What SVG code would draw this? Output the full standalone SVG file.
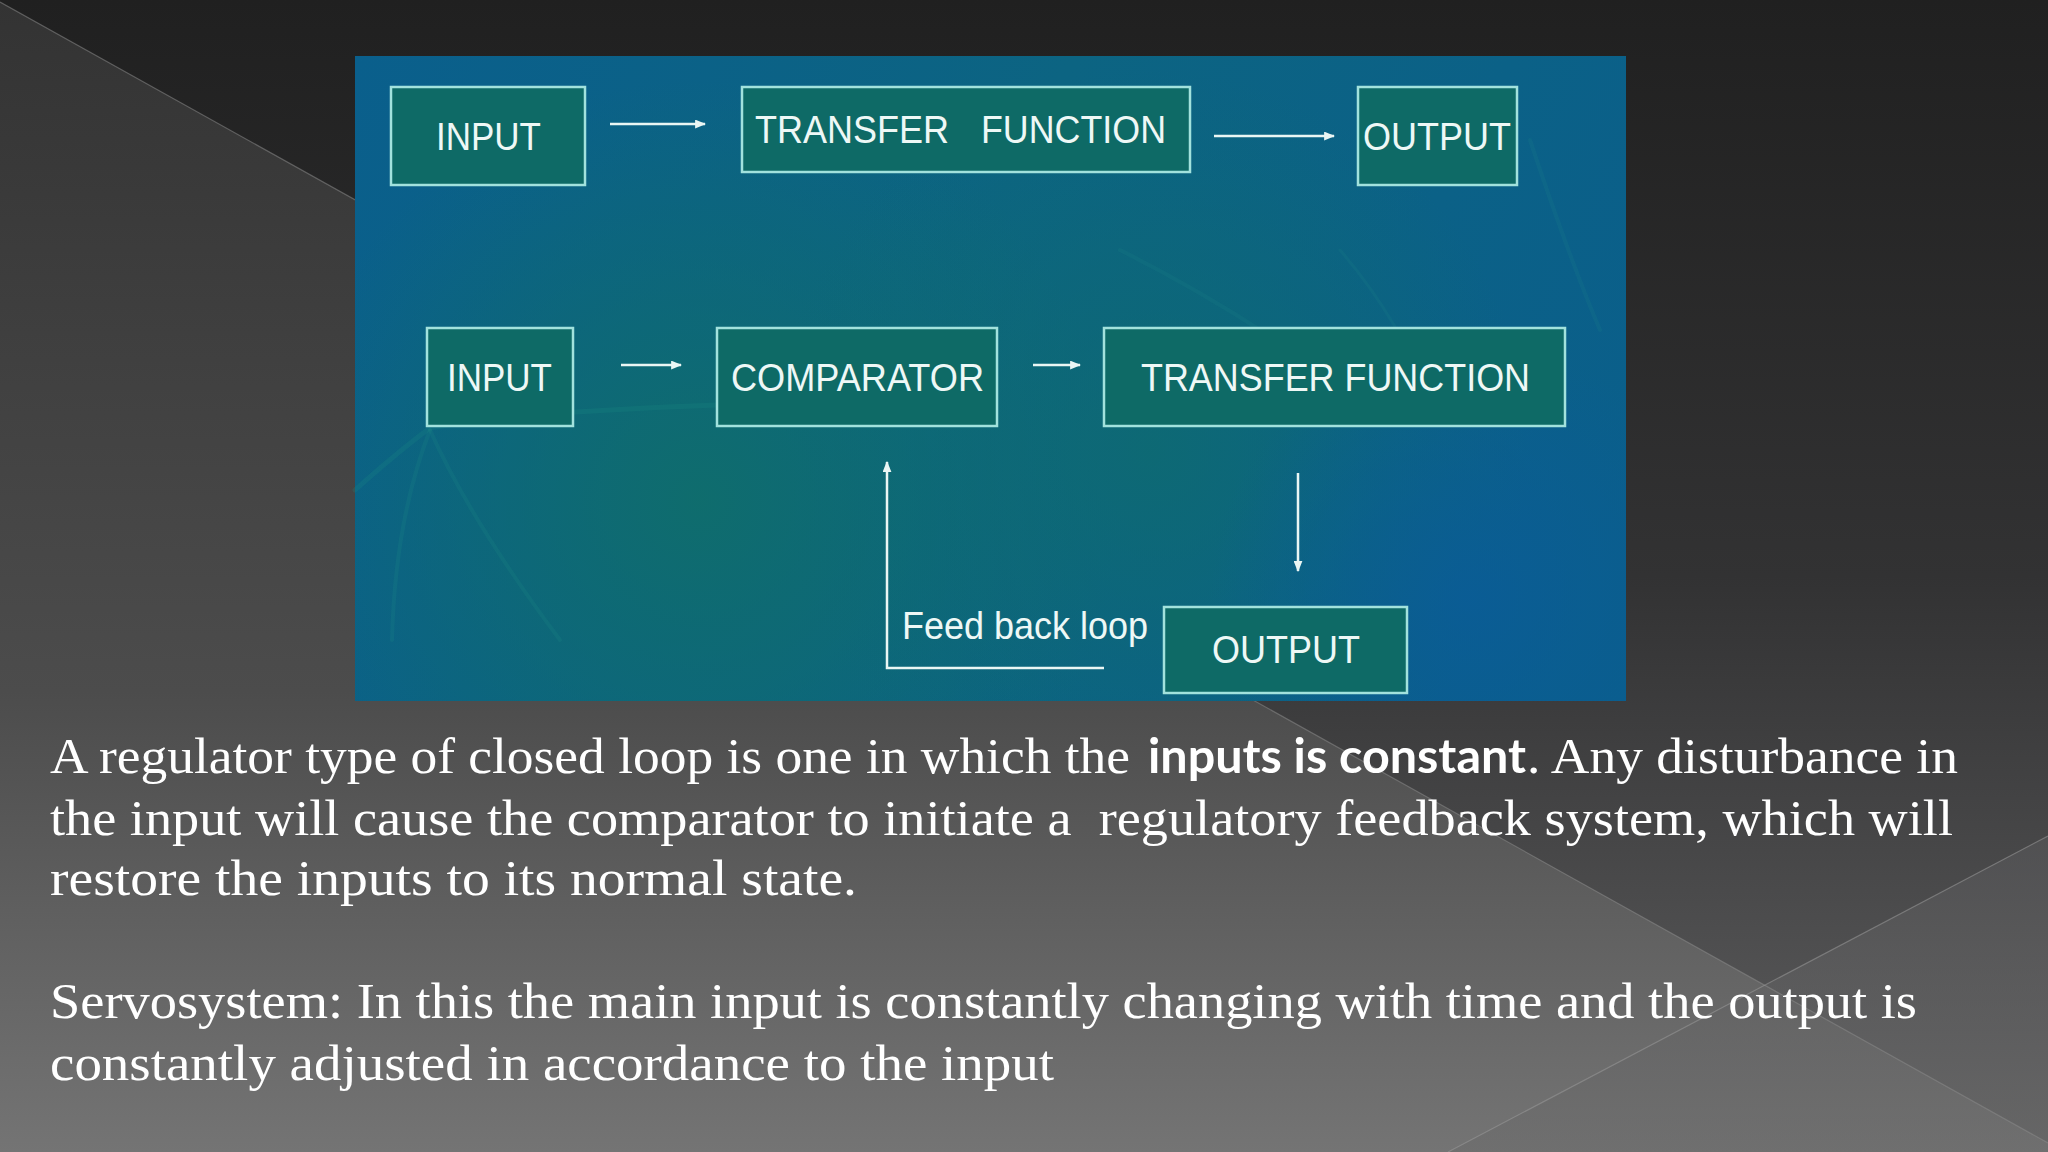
<svg xmlns="http://www.w3.org/2000/svg" width="2048" height="1152" viewBox="0 0 2048 1152">
<defs>
<linearGradient id="bgTop" x1="0" y1="0" x2="0" y2="1152" gradientUnits="userSpaceOnUse">
<stop offset="0" stop-color="#202020"/>
<stop offset="0.5" stop-color="#323233"/>
<stop offset="1" stop-color="#5e5e5f"/>
</linearGradient>
<linearGradient id="bgLow" x1="0" y1="0" x2="0" y2="1152" gradientUnits="userSpaceOnUse">
<stop offset="0" stop-color="#333333"/>
<stop offset="0.6" stop-color="#4c4c4c"/>
<stop offset="1" stop-color="#747474"/>
</linearGradient>
<linearGradient id="bgCorner" x1="0" y1="830" x2="0" y2="1152" gradientUnits="userSpaceOnUse">
<stop offset="0" stop-color="#575759"/>
<stop offset="1" stop-color="#6c6c6c"/>
</linearGradient>
<linearGradient id="panelBase" x1="355" y1="56" x2="1626" y2="701" gradientUnits="userSpaceOnUse">
<stop offset="0" stop-color="#0a5f8c"/>
<stop offset="0.45" stop-color="#0c6482"/>
<stop offset="1" stop-color="#0a5e8c"/>
</linearGradient>
<radialGradient id="tealPatch" cx="700" cy="500" r="420" gradientUnits="userSpaceOnUse">
<stop offset="0" stop-color="#0f6d6c" stop-opacity="0.95"/>
<stop offset="1" stop-color="#0f6d6c" stop-opacity="0"/>
</radialGradient>
<radialGradient id="tealPatch2" cx="1150" cy="450" r="380" gradientUnits="userSpaceOnUse">
<stop offset="0" stop-color="#0e6b70" stop-opacity="0.8"/>
<stop offset="1" stop-color="#0e6b70" stop-opacity="0"/>
</radialGradient>
<radialGradient id="bluePatch" cx="1470" cy="600" r="260" gradientUnits="userSpaceOnUse">
<stop offset="0" stop-color="#0a5c96" stop-opacity="0.9"/>
<stop offset="1" stop-color="#0a5c96" stop-opacity="0"/>
</radialGradient>
<marker id="ah" viewBox="0 0 10 8" refX="9" refY="4" markerWidth="11" markerHeight="9" markerUnits="userSpaceOnUse" orient="auto">
<path d="M0,0 L10,4 L0,8 Z" fill="#eaf6f4"/>
</marker>
<style>
.box{fill:#0e6a66;stroke:#a2e2dd;stroke-width:2.5}
.lbl{font-family:"Liberation Sans",Arial,sans-serif;font-size:39px;fill:#eef8f6}
.conn{stroke:#eaf6f4;stroke-width:2.5;fill:none}
.body{font-family:"Liberation Serif","Times New Roman",serif;font-size:51px;fill:#ffffff}
.bold{font-family:Lato,"Open Sans",sans-serif;font-weight:700;font-size:48px;fill:#ffffff}
.streak{stroke:#1d8b86;fill:none;stroke-linecap:round}
</style>
</defs>

<!-- slide background -->
<rect x="0" y="0" width="2048" height="1152" fill="url(#bgTop)"/>
<polygon points="0,2 2048,1143 2048,1152 0,1152" fill="url(#bgLow)"/>
<polygon points="2048,836 1448,1152 2048,1152" fill="url(#bgCorner)" opacity="0.6"/>
<line x1="0" y1="2" x2="2048" y2="1143" stroke="#8a8a8a" stroke-width="1.2" opacity="0.55"/>
<line x1="2048" y1="836" x2="1448" y2="1152" stroke="#9a9a9a" stroke-width="1.2" opacity="0.55"/>

<!-- picture panel -->
<g id="panel">
<rect x="355" y="56" width="1271" height="645" fill="url(#panelBase)"/>
<rect x="355" y="56" width="1271" height="645" fill="url(#tealPatch)"/>
<rect x="355" y="56" width="1271" height="645" fill="url(#tealPatch2)"/>
<rect x="355" y="56" width="1271" height="645" fill="url(#bluePatch)"/>
<path class="streak" d="M355,490 Q400,450 430,428 Q520,412 717,405" stroke-width="5" opacity="0.22"/>
<path class="streak" d="M430,430 Q470,520 560,640" stroke-width="4" opacity="0.2"/>
<path class="streak" d="M430,430 Q395,520 392,640" stroke-width="4" opacity="0.2"/>
<path class="streak" d="M1120,250 Q1220,300 1320,370" stroke-width="4" opacity="0.16"/>
<path class="streak" d="M1340,250 Q1400,320 1430,400" stroke-width="3" opacity="0.16"/>
<path class="streak" d="M1530,140 Q1570,260 1600,330" stroke-width="4" opacity="0.16"/>
</g>

<g id="connectors">
<line class="conn" x1="610" y1="124" x2="705" y2="124" marker-end="url(#ah)"/>
<line class="conn" x1="1214" y1="136" x2="1334" y2="136" marker-end="url(#ah)"/>
<line class="conn" x1="621" y1="365" x2="681" y2="365" marker-end="url(#ah)"/>
<line class="conn" x1="1033" y1="365" x2="1080" y2="365" marker-end="url(#ah)"/>
<line class="conn" x1="1298" y1="473" x2="1298" y2="571" marker-end="url(#ah)"/>
<path class="conn" d="M1104,668 H887 V462" marker-end="url(#ah)"/>
<text class="lbl" x="902" y="639" font-size="36" textLength="246" lengthAdjust="spacingAndGlyphs">Feed back loop</text>
</g>

<g id="input1">
<rect class="box" x="391" y="87" width="194" height="98"/>
<text class="lbl" x="436" y="150" textLength="105" lengthAdjust="spacingAndGlyphs">INPUT</text>
</g>
<g id="transfer1">
<rect class="box" x="742" y="87" width="448" height="85"/>
<text class="lbl" x="755" y="143"><tspan textLength="194" lengthAdjust="spacingAndGlyphs">TRANSFER</tspan> <tspan x="981" textLength="185" lengthAdjust="spacingAndGlyphs">FUNCTION</tspan></text>
</g>
<g id="output1">
<rect class="box" x="1358" y="87" width="159" height="98"/>
<text class="lbl" x="1363" y="150" textLength="148" lengthAdjust="spacingAndGlyphs">OUTPUT</text>
</g>
<g id="input2">
<rect class="box" x="427" y="328" width="146" height="98"/>
<text class="lbl" x="447" y="391" textLength="105" lengthAdjust="spacingAndGlyphs">INPUT</text>
</g>
<g id="comparator">
<rect class="box" x="717" y="328" width="280" height="98"/>
<text class="lbl" x="731" y="391" textLength="253" lengthAdjust="spacingAndGlyphs">COMPARATOR</text>
</g>
<g id="transfer2">
<rect class="box" x="1104" y="328" width="461" height="98"/>
<text class="lbl" x="1141" y="391" textLength="389" lengthAdjust="spacingAndGlyphs">TRANSFER FUNCTION</text>
</g>
<g id="output2">
<rect class="box" x="1164" y="607" width="243" height="86"/>
<text class="lbl" x="1212" y="663" textLength="148" lengthAdjust="spacingAndGlyphs">OUTPUT</text>
</g>

<!-- body text -->
<g id="bodytext">
<text class="body" x="50" y="773" textLength="1080" lengthAdjust="spacingAndGlyphs">A regulator type of closed loop is one in which the</text>
<text class="bold" x="1148" y="773" textLength="378" lengthAdjust="spacingAndGlyphs">inputs is constant</text>
<text class="body" x="1527" y="773" textLength="431" lengthAdjust="spacingAndGlyphs">. Any disturbance in</text>
<text class="body" x="50" y="835" textLength="1903" lengthAdjust="spacingAndGlyphs" style="white-space:pre">the input will cause the comparator to initiate a  regulatory feedback system, which will</text>
<text class="body" x="50" y="895" textLength="807" lengthAdjust="spacingAndGlyphs">restore the inputs to its normal state.</text>
<text class="body" x="50" y="1018" textLength="1867" lengthAdjust="spacingAndGlyphs">Servosystem: In this the main input is constantly changing with time and the output is</text>
<text class="body" x="50" y="1080" textLength="1004" lengthAdjust="spacingAndGlyphs">constantly adjusted in accordance to the input</text>
</g>
</svg>
